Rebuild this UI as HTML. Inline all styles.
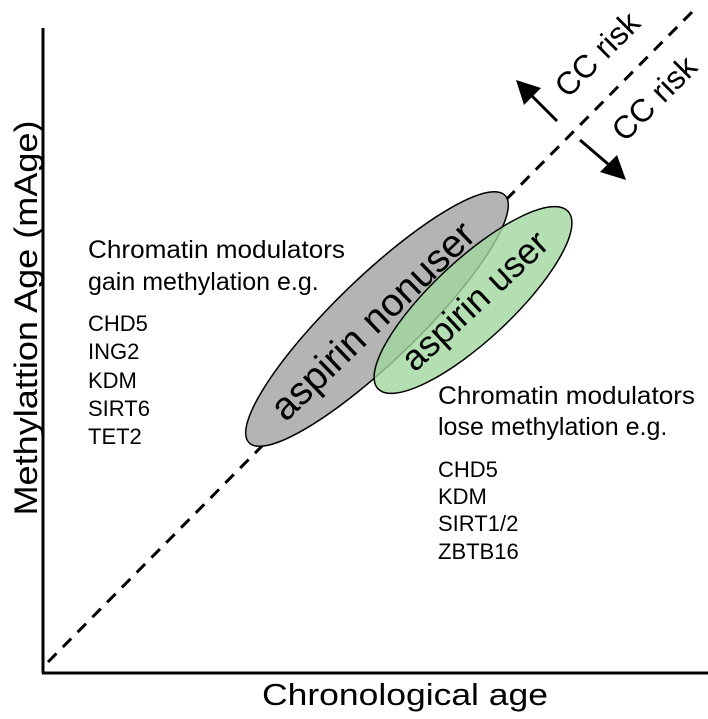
<!DOCTYPE html>
<html><head><meta charset="utf-8"><style>
html,body{margin:0;padding:0;background:#fff;}
svg{display:block;font-family:"Liberation Sans",Arial,sans-serif;}
</style></head><body>
<svg width="708" height="719" viewBox="0 0 708 719">
  <line x1="43" y1="28" x2="43" y2="673" stroke="#000" stroke-width="3"/>
  <line x1="42" y1="673" x2="708" y2="673" stroke="#000" stroke-width="3"/>
  <line x1="48" y1="662" x2="694" y2="10" stroke="#000" stroke-width="3" stroke-dasharray="12,9"/>

  <g>
    <ellipse cx="377" cy="319" rx="178" ry="42" transform="rotate(-44 377 319)" fill="#b4b4b4" stroke="#000" stroke-width="1.5"/>
  </g>
  <g>
    <ellipse cx="473" cy="300" rx="130" ry="40" transform="rotate(-43 473 300)" fill="rgba(160,215,160,0.8)" stroke="#000" stroke-width="1.5"/>
  </g>
  <text x="372" y="334" font-size="39" text-anchor="middle" transform="rotate(-44 372 320)">aspirin nonuser</text>
  <text x="474" y="313" font-size="36" text-anchor="middle" transform="rotate(-43 474 300)">aspirin user</text>

  <g>
    <line x1="557" y1="121" x2="532" y2="96" stroke="#000" stroke-width="3"/>
    <polygon points="516,80 541,88 524,105" fill="#000"/>
  </g>
  <g>
    <line x1="580" y1="140" x2="608" y2="164" stroke="#000" stroke-width="3"/>
    <polygon points="626,180 600,172 617,155" fill="#000"/>
  </g>
  <text x="0" y="0" font-size="32" text-anchor="middle" transform="translate(605,62) rotate(-45)">CC risk</text>
  <text x="0" y="0" font-size="32" text-anchor="middle" transform="translate(662,106) rotate(-45)">CC risk</text>

  <g font-size="25">
    <text x="88" y="258" textLength="257" lengthAdjust="spacingAndGlyphs">Chromatin modulators</text>
    <text x="88" y="290">gain methylation e.g.</text>
    <g font-size="22">
      <text x="88" y="331">CHD5</text>
      <text x="88" y="359">ING2</text>
      <text x="88" y="388">KDM</text>
      <text x="88" y="416">SIRT6</text>
      <text x="88" y="444">TET2</text>
    </g>
  </g>
  <g font-size="25">
    <text x="438" y="404" textLength="257" lengthAdjust="spacingAndGlyphs">Chromatin modulators</text>
    <text x="438" y="435">lose methylation e.g.</text>
    <g font-size="22">
      <text x="438" y="477">CHD5</text>
      <text x="438" y="504">KDM</text>
      <text x="438" y="531">SIRT1/2</text>
      <text x="438" y="559">ZBTB16</text>
    </g>
  </g>

  <text x="0" y="0" font-size="32" text-anchor="middle" textLength="395" lengthAdjust="spacingAndGlyphs" transform="translate(37,318) rotate(-90)">Methylattion Age (mAge)</text>
  <text x="405" y="705" font-size="31" text-anchor="middle" textLength="286" lengthAdjust="spacingAndGlyphs">Chronological age</text>
</svg>
</body></html>
